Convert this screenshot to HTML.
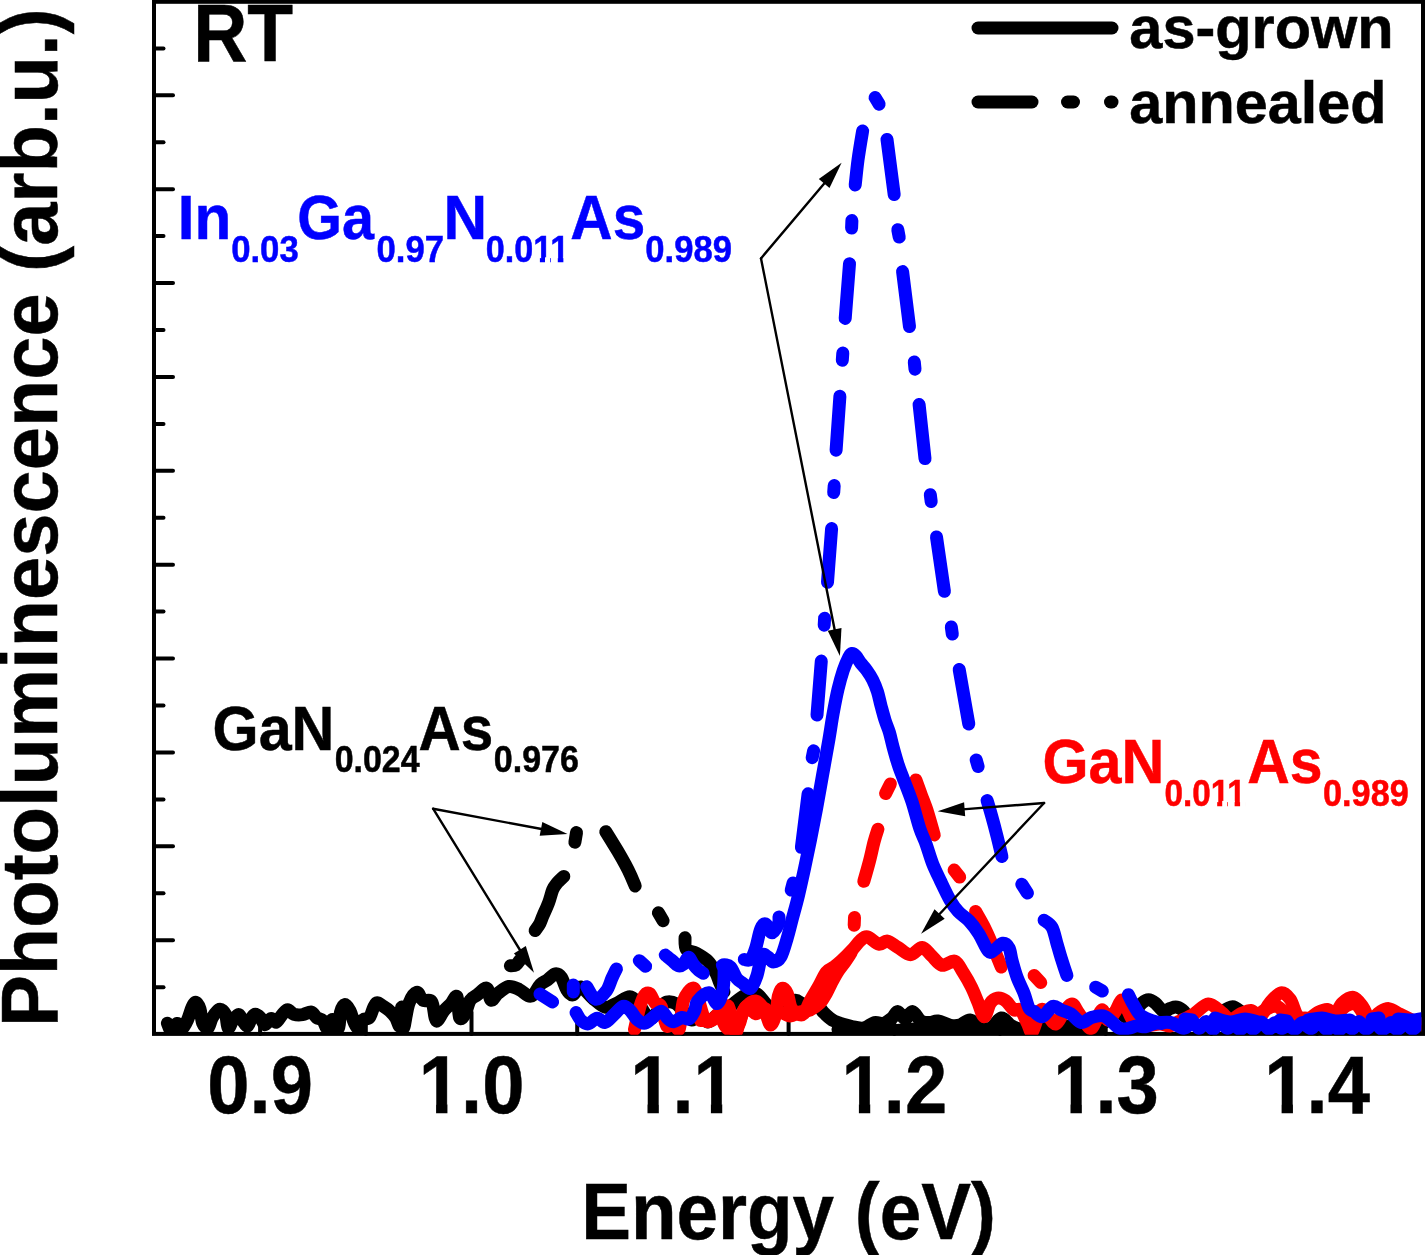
<!DOCTYPE html>
<html><head><meta charset="utf-8"><title>Photoluminescence</title>
<style>
html,body{margin:0;padding:0;background:#fff;}
body{width:1425px;height:1255px;overflow:hidden;}
svg{display:block;}
text{font-family:"Liberation Sans",Arial,Helvetica,sans-serif;font-weight:bold;}
</style></head><body>
<svg width="1425" height="1255" viewBox="0 0 1425 1255">
<rect width="1425" height="1255" fill="#fff"/>
<!-- axis ticks -->
<g stroke="#000" stroke-width="4" stroke-linecap="round" fill="none">
<line x1="154" y1="987.2" x2="163.5" y2="987.2"/>
<line x1="154" y1="940.2" x2="173.0" y2="940.2"/>
<line x1="154" y1="893.3" x2="163.5" y2="893.3"/>
<line x1="154" y1="846.3" x2="173.0" y2="846.3"/>
<line x1="154" y1="799.4" x2="163.5" y2="799.4"/>
<line x1="154" y1="752.5" x2="173.0" y2="752.5"/>
<line x1="154" y1="705.5" x2="163.5" y2="705.5"/>
<line x1="154" y1="658.6" x2="173.0" y2="658.6"/>
<line x1="154" y1="611.6" x2="163.5" y2="611.6"/>
<line x1="154" y1="564.7" x2="173.0" y2="564.7"/>
<line x1="154" y1="517.8" x2="163.5" y2="517.8"/>
<line x1="154" y1="470.8" x2="173.0" y2="470.8"/>
<line x1="154" y1="423.9" x2="163.5" y2="423.9"/>
<line x1="154" y1="376.9" x2="173.0" y2="376.9"/>
<line x1="154" y1="330.0" x2="163.5" y2="330.0"/>
<line x1="154" y1="283.1" x2="173.0" y2="283.1"/>
<line x1="154" y1="236.1" x2="163.5" y2="236.1"/>
<line x1="154" y1="189.2" x2="173.0" y2="189.2"/>
<line x1="154" y1="142.2" x2="163.5" y2="142.2"/>
<line x1="154" y1="95.3" x2="173.0" y2="95.3"/>
<line x1="154" y1="48.4" x2="163.5" y2="48.4"/>
<line x1="260.1" y1="1033.9" x2="260.1" y2="1011.9"/>
<line x1="365.8" y1="1033.9" x2="365.8" y2="1021.9"/>
<line x1="471.5" y1="1033.9" x2="471.5" y2="1011.9"/>
<line x1="577.2" y1="1033.9" x2="577.2" y2="1021.9"/>
<line x1="682.9" y1="1033.9" x2="682.9" y2="1011.9"/>
<line x1="788.6" y1="1033.9" x2="788.6" y2="1021.9"/>
<line x1="894.3" y1="1033.9" x2="894.3" y2="1011.9"/>
<line x1="1000.0" y1="1033.9" x2="1000.0" y2="1021.9"/>
<line x1="1105.7" y1="1033.9" x2="1105.7" y2="1011.9"/>
<line x1="1211.4" y1="1033.9" x2="1211.4" y2="1021.9"/>
<line x1="1317.1" y1="1033.9" x2="1317.1" y2="1011.9"/>
</g>
<!-- frame -->
<rect x="154" y="1.8" width="1269" height="1032.1" fill="none" stroke="#000" stroke-width="4"/>
<!-- curves -->
<defs><clipPath id="plotclip"><rect x="152" y="0" width="1269.3" height="1034.8"/></clipPath></defs>
<g clip-path="url(#plotclip)" fill="none" stroke-linecap="round" stroke-linejoin="round">
<path d="M167.4 1023.3C168.0 1024.4 169.4 1030.0 171.0 1030.0C172.6 1030.0 175.3 1023.8 177.2 1023.5C179.1 1023.2 180.8 1028.9 182.5 1028.2C184.2 1027.5 186.1 1023.0 187.7 1019.5C189.3 1016.0 190.7 1010.1 192.1 1007.2C193.5 1004.3 194.7 1002.0 196.0 1002.3C197.3 1002.6 198.9 1005.5 200.0 1009.0C201.1 1012.5 201.3 1019.8 202.6 1023.0C203.9 1026.2 206.3 1029.1 207.9 1028.2C209.5 1027.3 210.4 1020.9 212.3 1017.7C214.2 1014.6 217.1 1009.9 219.3 1009.3C221.5 1008.7 223.9 1011.1 225.4 1014.2C226.9 1017.4 226.9 1027.0 228.1 1028.2C229.3 1029.4 230.8 1023.5 232.5 1021.2C234.2 1018.9 236.8 1014.6 238.6 1014.6C240.3 1014.6 241.5 1019.3 243.0 1021.2C244.5 1023.1 245.9 1026.7 247.4 1026.1C248.9 1025.5 250.5 1019.7 251.8 1017.7C253.1 1015.7 253.9 1014.2 255.3 1014.2C256.8 1014.2 258.9 1016.0 260.5 1017.7C262.1 1019.5 263.1 1024.5 264.9 1024.7C266.6 1024.9 269.1 1019.0 271.0 1018.6C272.9 1018.2 274.4 1022.8 276.3 1022.1C278.2 1021.4 280.6 1016.2 282.5 1014.2C284.4 1012.2 285.8 1009.8 287.7 1009.8C289.6 1009.8 291.4 1013.4 293.9 1014.2C296.4 1015.0 299.7 1015.0 302.6 1014.6C305.5 1014.2 309.0 1011.6 311.4 1012.1C313.8 1012.6 314.8 1016.3 316.7 1017.7C318.6 1019.1 321.1 1018.6 322.8 1020.4C324.6 1022.1 325.6 1028.4 327.2 1028.2C328.8 1028.0 330.6 1019.5 332.5 1019.5C334.4 1019.5 337.3 1029.4 338.6 1028.2C339.9 1027.0 339.4 1016.4 340.4 1012.5C341.4 1008.6 343.1 1004.9 344.7 1004.6C346.3 1004.3 348.4 1007.6 350.0 1010.7C351.6 1013.8 352.9 1020.1 354.4 1023.0C355.9 1025.9 357.3 1028.8 358.8 1028.2C360.3 1027.6 361.4 1021.2 363.2 1019.5C364.9 1017.8 367.6 1019.8 369.3 1017.7C371.1 1015.7 372.4 1009.7 373.7 1007.2C375.0 1004.7 375.6 1002.9 377.2 1002.8C378.8 1002.6 381.2 1005.0 383.3 1006.3C385.4 1007.6 387.4 1008.8 389.5 1010.7C391.6 1012.6 393.9 1015.2 395.6 1017.7C397.4 1020.2 399.0 1027.8 400.0 1026.0C401.0 1024.2 401.2 1006.8 401.8 1007.2C402.4 1007.6 402.3 1028.8 403.5 1028.2C404.7 1027.6 406.6 1009.7 408.8 1003.7C411.0 997.7 414.4 992.9 416.7 992.3C419.0 991.7 420.3 998.7 422.8 1000.2C425.3 1001.8 429.6 998.7 431.6 1001.6C433.7 1004.5 434.1 1014.6 435.1 1017.7C436.1 1020.8 436.2 1021.6 437.7 1020.4C439.2 1019.2 441.7 1013.5 443.9 1010.7C446.1 1007.9 448.7 1006.0 450.9 1003.7C453.1 1001.4 455.6 994.4 457.0 996.7C458.4 999.0 458.3 1014.8 459.6 1017.7C460.9 1020.6 463.1 1017.1 464.9 1014.2C466.7 1011.3 468.1 1003.4 470.2 1000.2C472.2 997.0 474.4 996.9 477.2 994.9C480.0 992.9 484.5 987.3 486.8 988.2C489.1 989.1 489.3 999.4 491.2 1000.2C493.1 1001.0 495.3 995.5 498.2 993.2C501.1 990.9 505.3 987.1 508.8 986.5C512.3 985.9 516.1 988.1 519.3 989.6C522.5 991.1 525.8 994.9 528.1 995.8C530.4 996.7 531.2 996.8 533.3 994.9C535.3 993.0 538.0 986.9 540.4 984.4C542.8 981.9 544.9 981.8 547.4 980.0C549.9 978.2 553.0 974.3 555.3 973.9C557.6 973.5 559.5 974.8 561.4 977.4C563.3 980.0 564.8 986.7 566.7 989.6C568.6 992.5 570.5 995.3 572.8 994.9C575.1 994.5 577.3 986.4 580.7 987.0C584.1 987.6 588.9 995.0 593.0 998.4C597.1 1001.8 601.5 1006.3 605.3 1007.2C609.1 1008.1 611.7 1005.5 615.8 1003.7C619.9 1002.0 626.0 996.7 629.8 996.7C633.6 996.7 636.0 1000.8 638.6 1003.7C641.2 1006.6 643.4 1011.8 645.6 1014.2C647.8 1016.6 649.6 1019.0 652.0 1018.0C654.4 1017.0 657.5 1010.7 660.0 1008.0C662.5 1005.3 664.0 1002.7 666.7 1002.0C669.4 1001.3 673.1 1002.0 676.0 1003.7C678.9 1005.4 681.3 1009.3 684.0 1012.0C686.7 1014.7 689.3 1019.7 692.0 1020.0C694.7 1020.3 697.3 1013.7 700.0 1014.0C702.7 1014.3 705.3 1021.7 708.0 1022.0C710.7 1022.3 713.0 1018.0 716.0 1016.0C719.0 1014.0 722.3 1012.7 726.0 1010.0C729.7 1007.3 734.3 1002.7 738.0 1000.0C741.7 997.3 744.8 995.0 748.0 994.0C751.2 993.0 754.0 992.3 757.0 994.0C760.0 995.7 763.2 1001.0 766.0 1004.0C768.8 1007.0 771.0 1012.0 774.0 1012.0C777.0 1012.0 780.4 1006.0 784.0 1004.0C787.6 1002.0 792.5 1000.2 795.6 1000.2C798.7 1000.2 798.8 1002.5 802.6 1003.7C806.4 1004.9 814.9 1005.7 818.4 1007.2C821.9 1008.7 821.1 1010.4 823.7 1012.7C826.3 1015.0 829.5 1018.7 834.2 1021.0C838.9 1023.3 846.8 1025.3 851.8 1026.5C856.8 1027.7 860.2 1028.7 864.0 1028.0C867.8 1027.3 871.4 1023.3 874.6 1022.5C877.8 1021.7 880.4 1024.2 883.3 1023.4C886.2 1022.6 889.7 1020.0 892.1 1018.0C894.5 1016.0 895.7 1011.5 897.9 1011.6C900.1 1011.8 902.8 1018.9 905.3 1018.9C907.8 1018.9 910.0 1011.2 912.6 1011.6C915.2 1012.0 918.1 1019.2 921.0 1021.0C923.9 1022.8 927.2 1022.5 930.0 1022.5C932.8 1022.5 934.5 1020.5 937.9 1021.0C941.3 1021.5 946.8 1024.6 950.5 1025.3C954.2 1026.0 956.7 1025.9 960.0 1025.0C963.3 1024.1 966.7 1019.7 970.1 1020.0C973.5 1020.3 976.8 1025.3 980.2 1026.7C983.6 1028.1 986.8 1029.9 990.3 1028.4C993.8 1027.0 997.9 1018.6 1001.3 1018.0C1004.7 1017.4 1007.4 1023.2 1010.5 1025.0C1013.6 1026.8 1015.9 1028.7 1020.0 1029.0C1024.1 1029.3 1030.0 1027.0 1035.0 1027.0C1040.0 1027.0 1045.0 1029.2 1050.0 1029.0C1055.0 1028.8 1060.0 1026.0 1065.0 1026.0C1070.0 1026.0 1075.0 1028.8 1080.0 1029.0C1085.0 1029.2 1090.8 1028.2 1095.0 1027.0C1099.2 1025.8 1101.4 1024.6 1105.0 1022.0C1108.6 1019.4 1112.7 1012.2 1116.6 1011.6C1120.5 1011.0 1125.3 1018.2 1128.4 1018.3C1131.5 1018.4 1132.8 1014.5 1135.0 1012.0C1137.2 1009.5 1139.6 1005.2 1141.9 1003.2C1144.2 1001.2 1146.3 999.8 1148.6 999.8C1150.8 999.8 1152.9 1001.2 1155.4 1003.2C1157.9 1005.2 1161.4 1010.7 1163.8 1011.6C1166.2 1012.5 1167.8 1009.2 1170.0 1008.5C1172.2 1007.8 1174.4 1006.7 1176.7 1007.2C1179.0 1007.7 1182.0 1009.5 1184.0 1011.6C1186.0 1013.7 1186.3 1017.6 1189.0 1020.0C1191.7 1022.4 1196.2 1025.7 1200.0 1026.0C1203.8 1026.3 1208.3 1024.3 1212.0 1022.0C1215.7 1019.7 1218.6 1014.5 1222.0 1012.0C1225.4 1009.5 1229.3 1006.7 1232.5 1006.7C1235.7 1006.7 1238.1 1009.5 1241.0 1012.0C1243.9 1014.5 1246.0 1019.7 1250.0 1022.0C1254.0 1024.3 1260.0 1025.7 1265.0 1026.0C1270.0 1026.3 1275.0 1023.8 1280.0 1024.0C1285.0 1024.2 1290.0 1027.0 1295.0 1027.0C1300.0 1027.0 1304.2 1024.0 1310.0 1024.0C1315.8 1024.0 1323.3 1027.0 1330.0 1027.0C1336.7 1027.0 1343.3 1024.0 1350.0 1024.0C1356.7 1024.0 1363.3 1027.0 1370.0 1027.0C1376.7 1027.0 1383.3 1024.0 1390.0 1024.0C1396.7 1024.0 1404.2 1026.8 1410.0 1027.0C1415.8 1027.2 1422.5 1025.3 1425.0 1025.0" stroke="#000" stroke-width="13"/>
<path d="M510.4 965.7C511.3 965.6 514.4 965.9 516.0 964.9C517.6 963.9 519.3 960.8 520.0 960.0" stroke="#000" stroke-width="13"/>
<path d="M535.1 930.6C535.9 929.4 538.6 925.9 539.9 923.4C541.2 920.9 541.6 919.0 543.1 915.5C544.6 912.0 547.0 907.0 548.6 902.7C550.2 898.5 551.3 893.2 552.6 890.0C553.9 886.8 554.7 885.9 556.6 883.6C558.5 881.3 562.6 877.6 563.8 876.4" stroke="#000" stroke-width="13"/>
<polyline points="574.9,842.2 576.5,832.6" stroke="#000" stroke-width="13"/>
<path d="M605.8 831.7C607.8 834.9 614.3 845.4 617.6 850.9C620.9 856.4 623.3 860.8 625.4 864.7C627.5 868.6 628.7 871.0 630.3 874.5C631.9 878.0 634.4 884.0 635.2 885.9" stroke="#000" stroke-width="13"/>
<polyline points="658.4,912.8 663.1,920.7" stroke="#000" stroke-width="13"/>
<path d="M685.0 937.8C685.2 939.7 684.4 946.7 686.3 949.2C688.2 951.8 692.6 951.1 696.2 953.1C699.8 955.1 704.6 957.7 707.9 961.0C711.2 964.3 713.8 969.2 715.8 972.8C717.8 976.4 718.3 979.4 719.7 982.6C721.1 985.8 723.3 990.4 724.0 992.0" stroke="#000" stroke-width="13"/>
<path d="M838.0 1029.5C840.8 1029.7 848.8 1030.6 855.0 1030.5C861.2 1030.4 868.3 1029.0 875.0 1029.0C881.7 1029.0 888.3 1030.5 895.0 1030.5C901.7 1030.5 908.3 1029.1 915.0 1029.0C921.7 1028.9 928.8 1030.0 935.0 1030.0C941.2 1030.0 947.0 1029.3 952.0 1029.0C957.0 1028.7 960.3 1027.8 965.0 1028.0C969.7 1028.2 975.0 1030.0 980.0 1030.0C985.0 1030.0 990.0 1028.0 995.0 1028.0C1000.0 1028.0 1005.0 1029.8 1010.0 1030.0C1015.0 1030.2 1020.0 1029.0 1025.0 1029.0C1030.0 1029.0 1034.2 1030.0 1040.0 1030.0C1045.8 1030.0 1053.3 1029.0 1060.0 1029.0C1066.7 1029.0 1073.3 1030.0 1080.0 1030.0C1086.7 1030.0 1096.7 1029.2 1100.0 1029.0" stroke="#000" stroke-width="13"/>
<path d="M634.5 1029.5C635.4 1025.6 638.3 1012.0 640.0 1006.3C641.7 1000.6 643.0 997.2 644.6 995.1C646.2 993.0 648.0 992.3 649.8 993.7C651.6 995.1 653.5 1001.4 655.4 1003.5C657.3 1005.6 659.2 1002.5 661.1 1006.3C663.0 1010.0 664.7 1023.4 666.7 1026.0C668.7 1028.6 670.9 1021.5 673.0 1022.0C675.1 1022.5 677.5 1032.3 679.3 1028.8C681.0 1025.2 681.2 1007.5 683.5 1000.7C685.8 993.9 690.8 988.1 693.3 988.1C695.8 988.1 697.2 996.7 698.8 1001.0C700.3 1005.3 701.3 1010.3 702.6 1013.7C703.9 1017.1 704.7 1020.2 706.4 1021.3C708.1 1022.3 710.6 1021.3 712.7 1020.0C714.8 1018.7 717.0 1012.7 719.1 1013.7C721.2 1014.8 723.1 1023.3 725.4 1026.3C727.7 1029.2 730.6 1031.8 732.9 1031.4C735.2 1031.0 737.6 1027.2 739.3 1023.8C741.0 1020.4 741.4 1014.6 743.1 1011.2C744.8 1007.8 747.3 1005.3 749.4 1003.6C751.5 1001.9 753.8 1000.8 755.7 1001.0C757.6 1001.2 759.0 1002.7 760.7 1004.8C762.4 1006.9 764.1 1010.3 765.8 1013.7C767.5 1017.1 769.1 1025.0 770.8 1025.0C772.5 1025.0 774.6 1018.5 775.9 1013.7C777.2 1008.9 777.3 1000.2 778.4 996.0C779.5 991.8 780.7 988.8 782.2 988.4C783.7 988.0 785.8 990.3 787.3 993.5C788.8 996.7 789.3 1004.0 791.0 1007.4C792.7 1010.8 795.3 1012.7 797.4 1013.7C799.5 1014.8 801.6 1015.8 803.7 1013.7C805.8 1011.6 807.5 1005.6 810.0 1001.0C812.5 996.4 816.1 990.7 818.8 985.9C821.5 981.1 823.9 975.1 826.4 972.0C828.9 968.9 831.5 968.9 834.0 967.0C836.5 965.1 838.6 963.4 841.6 960.6C844.6 957.9 848.6 953.9 851.7 950.5C854.9 947.1 857.9 942.7 860.5 940.4C863.1 938.1 864.3 936.2 867.4 936.8C870.5 937.4 875.6 943.5 878.9 944.2C882.2 944.9 884.2 940.6 887.4 941.1C890.6 941.6 894.0 945.1 897.9 947.4C901.8 949.7 906.5 954.7 910.5 954.7C914.5 954.7 918.6 947.2 922.1 947.4C925.6 947.6 928.3 952.8 931.6 955.8C934.9 958.8 938.2 964.4 942.1 965.3C946.0 966.2 951.2 959.9 954.7 961.1C958.2 962.3 960.4 968.2 963.2 972.6C966.0 977.0 969.2 982.5 971.6 987.4C974.0 992.3 975.8 997.2 977.9 1002.1C980.0 1007.0 982.1 1016.6 984.2 1016.8C986.3 1017.0 988.1 1006.3 990.3 1003.2C992.4 1000.1 994.6 998.5 997.1 998.1C999.6 997.7 1002.7 998.6 1005.5 1000.6C1008.3 1002.6 1011.4 1008.4 1013.9 1009.9C1016.4 1011.4 1018.4 1007.6 1020.6 1009.9C1022.9 1012.1 1025.4 1019.8 1027.4 1023.4C1029.4 1027.0 1030.2 1034.0 1032.4 1031.8C1034.6 1029.5 1038.2 1012.5 1040.8 1009.9C1043.4 1007.3 1045.5 1013.6 1048.0 1016.0C1050.5 1018.4 1053.3 1024.7 1056.0 1024.0C1058.7 1023.3 1061.3 1015.3 1064.0 1012.0C1066.7 1008.7 1069.7 1004.0 1072.0 1004.0C1074.3 1004.0 1075.9 1009.0 1078.0 1012.0C1080.1 1015.0 1082.3 1019.0 1084.6 1021.7C1086.9 1024.4 1089.2 1030.0 1092.0 1028.0C1094.8 1026.0 1098.8 1011.3 1101.5 1010.0C1104.2 1008.7 1105.8 1019.7 1108.0 1020.0C1110.2 1020.3 1112.7 1015.3 1115.0 1012.0C1117.3 1008.7 1119.8 1000.6 1121.7 1000.0C1123.7 999.4 1124.7 1004.5 1126.7 1008.2C1128.8 1011.9 1131.0 1019.0 1134.0 1022.0C1137.0 1025.0 1140.7 1025.7 1145.0 1026.0C1149.3 1026.3 1155.8 1024.0 1160.0 1024.0C1164.2 1024.0 1166.9 1026.4 1170.0 1026.0C1173.1 1025.6 1174.7 1023.6 1178.6 1021.6C1182.5 1019.6 1188.5 1017.2 1193.5 1014.2C1198.5 1011.2 1203.8 1004.2 1208.4 1003.9C1213.1 1003.6 1217.7 1009.7 1221.4 1012.3C1225.1 1014.9 1227.6 1019.4 1230.7 1019.7C1233.8 1020.0 1236.6 1015.8 1240.0 1014.2C1243.4 1012.7 1247.7 1010.1 1251.1 1010.4C1254.5 1010.7 1257.3 1017.2 1260.4 1016.0C1263.5 1014.8 1266.3 1006.9 1269.7 1003.0C1273.1 999.1 1277.5 993.4 1280.9 992.8C1284.3 992.2 1287.4 995.4 1290.2 999.3C1293.0 1003.2 1294.8 1012.6 1297.6 1016.0C1300.4 1019.4 1303.5 1020.3 1306.9 1019.7C1310.3 1019.1 1314.7 1014.0 1318.1 1012.3C1321.5 1010.6 1324.6 1009.2 1327.4 1009.5C1330.2 1009.8 1332.3 1015.3 1334.8 1014.2C1337.3 1013.1 1339.2 1005.8 1342.3 1003.0C1345.4 1000.2 1350.0 996.8 1353.4 997.4C1356.8 998.0 1359.9 1003.0 1362.7 1006.7C1365.5 1010.4 1367.4 1018.8 1370.2 1019.7C1373.0 1020.6 1376.4 1014.1 1379.5 1012.3C1382.6 1010.4 1385.4 1008.3 1388.8 1008.6C1392.2 1008.9 1396.2 1012.4 1399.9 1014.2C1403.6 1016.1 1406.9 1017.7 1411.1 1019.7C1415.3 1021.7 1422.7 1025.0 1425.0 1026.0" stroke="#f00" stroke-width="13"/>
<path d="M700.4 1020.4C701.8 1020.4 706.3 1020.9 708.8 1020.4C711.3 1019.9 713.0 1018.2 715.3 1017.5C717.6 1016.8 720.6 1018.1 722.8 1016.2C725.0 1014.3 726.3 1003.7 728.4 1006.3C730.5 1008.9 733.4 1029.5 735.4 1031.6C737.4 1033.7 738.6 1022.9 740.5 1018.7C742.4 1014.5 744.2 1007.1 746.7 1006.3C749.2 1005.5 752.7 1013.3 755.7 1013.7C758.7 1014.1 761.8 1008.4 764.5 1008.6C767.2 1008.8 769.4 1014.4 772.0 1015.0C774.6 1015.6 777.0 1011.8 780.0 1012.0C783.0 1012.2 786.7 1016.0 790.0 1016.0C793.3 1016.0 796.7 1013.0 800.0 1012.0C803.3 1011.0 806.7 1011.5 810.0 1010.0C813.3 1008.5 817.3 1005.7 820.0 1003.0C822.7 1000.3 824.2 997.2 826.0 994.0C827.8 990.8 829.2 987.5 831.0 984.0C832.8 980.5 834.7 976.7 837.0 973.0C839.3 969.3 842.7 965.3 845.0 962.0C847.3 958.7 850.0 954.5 851.0 953.0" stroke="#f00" stroke-width="13"/>
<path d="M1255.0 1018.0C1256.7 1016.7 1261.5 1012.0 1265.0 1010.0C1268.5 1008.0 1272.8 1005.7 1276.0 1006.0C1279.2 1006.3 1281.3 1009.7 1284.0 1012.0C1286.7 1014.3 1288.5 1019.0 1292.0 1020.0C1295.5 1021.0 1300.7 1018.0 1305.0 1018.0C1309.3 1018.0 1315.8 1019.7 1318.0 1020.0" stroke="#f00" stroke-width="13"/>
<path d="M1336.0 1016.0C1337.7 1014.3 1342.7 1008.0 1346.0 1006.0C1349.3 1004.0 1353.0 1002.7 1356.0 1004.0C1359.0 1005.3 1360.7 1011.3 1364.0 1014.0C1367.3 1016.7 1371.7 1019.7 1376.0 1020.0C1380.3 1020.3 1385.7 1016.0 1390.0 1016.0C1394.3 1016.0 1400.0 1019.3 1402.0 1020.0" stroke="#f00" stroke-width="13"/>
<polyline points="854.2,925.3 854.5,917.4" stroke="#f00" stroke-width="13"/>
<path d="M863.8 881.3C864.8 877.9 867.8 867.5 869.5 861.0C871.2 854.5 872.6 847.3 874.0 842.0C875.4 836.7 877.2 831.3 877.9 829.2" stroke="#f00" stroke-width="13"/>
<polyline points="885.6,793.5 890.4,783.9" stroke="#f00" stroke-width="13"/>
<path d="M915.9 779.9C916.8 782.4 919.4 789.6 921.4 795.1C923.4 800.6 925.7 806.0 927.8 812.6C929.9 819.2 933.1 831.2 934.2 834.9" stroke="#f00" stroke-width="13"/>
<polyline points="954.1,870.0 959.7,877.1" stroke="#f00" stroke-width="13"/>
<path d="M975.6 911.4C976.9 913.8 980.9 920.4 983.6 925.7C986.3 931.0 988.7 936.4 991.6 943.3C994.5 950.2 999.7 963.0 1001.3 967.0" stroke="#f00" stroke-width="13"/>
<polyline points="1034.1,975.4 1040.8,982.6" stroke="#f00" stroke-width="13"/>
<path d="M576.1 1012.6C576.9 1013.9 579.1 1018.5 581.1 1020.4C583.1 1022.3 585.4 1024.3 588.1 1023.9C590.8 1023.5 594.4 1018.4 597.2 1018.2C600.0 1018.0 602.1 1023.1 604.9 1022.5C607.7 1021.9 611.0 1017.4 614.0 1014.7C617.0 1012.0 620.5 1007.0 623.2 1006.3C625.9 1005.6 628.0 1008.4 630.2 1010.5C632.4 1012.6 634.2 1016.8 636.5 1018.9C638.8 1021.0 641.8 1023.2 644.2 1023.2C646.7 1023.2 648.4 1020.9 651.2 1018.9C654.0 1016.9 658.3 1011.2 661.1 1011.2C663.9 1011.2 666.0 1017.1 668.1 1018.9C670.2 1020.7 671.4 1022.0 673.7 1021.8C676.0 1021.6 679.5 1018.0 682.1 1017.5C684.7 1017.0 687.0 1020.1 689.1 1018.9C691.2 1017.7 693.3 1013.5 694.7 1010.5C696.1 1007.5 695.2 1004.0 697.6 1001.0C700.0 998.0 705.6 992.4 708.9 992.8C712.2 993.2 714.9 1003.9 717.2 1003.6C719.5 1003.3 721.6 996.4 722.8 990.9C723.9 985.4 724.1 975.0 724.1 970.7C724.1 966.4 721.8 965.6 722.8 965.0C723.8 964.4 728.1 964.7 730.4 966.9C732.7 969.1 734.6 975.5 736.7 978.3C738.8 981.0 740.7 981.7 743.0 983.4C745.3 985.1 748.3 989.7 750.6 988.4C752.9 987.1 755.0 981.3 756.9 975.8C758.8 970.3 760.1 958.7 762.0 955.6C763.9 952.5 766.1 956.0 768.0 957.0C769.9 958.0 771.2 961.9 773.4 961.9C775.5 961.9 778.6 960.8 780.9 956.8C783.2 952.8 785.4 944.2 787.3 937.9C789.2 931.6 790.4 926.1 792.3 918.9C794.2 911.7 796.6 903.3 798.6 894.9C800.6 886.5 802.5 877.8 804.5 868.6C806.5 859.4 808.5 849.9 810.5 839.9C812.5 829.9 814.5 819.6 816.5 808.9C818.5 798.1 820.5 786.6 822.5 775.4C824.5 764.2 826.7 752.3 828.5 741.9C830.3 731.5 831.6 722.0 833.2 713.2C834.8 704.4 836.3 696.5 838.0 689.3C839.7 682.1 841.5 675.6 843.3 670.2C845.1 664.8 847.4 659.9 848.8 657.1C850.2 654.3 850.7 653.7 851.9 653.5C853.1 653.3 854.4 654.3 855.9 655.9C857.4 657.5 858.9 660.6 860.7 663.0C862.5 665.4 864.7 667.4 866.7 670.2C868.7 673.0 870.9 676.2 872.7 679.8C874.5 683.4 876.1 687.3 877.5 691.7C878.9 696.1 879.8 701.3 881.1 706.1C882.4 710.9 883.7 716.0 885.1 720.4C886.5 724.8 888.1 728.0 889.4 732.4C890.7 736.8 891.6 741.5 893.0 746.7C894.4 751.9 896.2 758.5 897.8 763.4C899.3 768.3 899.9 769.6 902.3 775.9C904.6 782.2 909.0 792.6 911.9 801.4C914.8 810.2 917.4 821.3 919.8 828.5C922.2 835.7 924.1 838.6 926.2 844.5C928.3 850.4 930.2 857.5 932.6 863.6C935.0 869.7 937.7 875.0 940.6 881.1C943.5 887.2 947.2 895.2 950.1 900.2C953.0 905.2 954.9 907.9 958.1 911.4C961.3 914.9 965.8 917.3 969.2 921.0C972.7 924.7 975.6 928.7 978.8 933.7C982.0 938.7 985.8 948.6 988.4 951.2C991.0 953.9 992.3 950.9 994.7 949.6C997.1 948.3 1000.3 943.6 1002.7 943.3C1005.1 943.0 1007.5 945.0 1009.1 948.0C1010.7 951.0 1010.8 956.1 1012.2 961.1C1013.6 966.1 1015.3 972.6 1017.3 977.9C1019.3 983.2 1022.0 988.0 1024.0 993.1C1026.0 998.2 1027.4 1005.1 1029.1 1008.2C1030.8 1011.3 1031.9 1010.2 1034.1 1011.6C1036.3 1013.0 1039.4 1017.5 1042.5 1016.6C1045.6 1015.8 1049.5 1007.6 1052.6 1006.5C1055.7 1005.4 1058.0 1008.6 1061.1 1009.9C1064.2 1011.2 1067.8 1012.0 1071.2 1014.1C1074.6 1016.2 1077.9 1021.9 1081.3 1022.5C1084.7 1023.1 1087.8 1018.6 1091.4 1017.5C1095.1 1016.4 1099.8 1015.1 1103.2 1015.8C1106.6 1016.5 1108.8 1019.6 1111.6 1021.7C1114.4 1023.8 1117.2 1027.3 1120.0 1028.4C1122.8 1029.5 1125.6 1028.8 1128.4 1028.4C1131.2 1028.0 1134.0 1026.2 1136.8 1025.9C1139.6 1025.6 1142.2 1027.1 1145.3 1026.7C1148.4 1026.3 1151.2 1024.1 1155.4 1023.4C1159.6 1022.7 1165.7 1021.7 1170.5 1022.5C1175.3 1023.3 1180.3 1028.5 1184.0 1028.4C1187.7 1028.3 1189.9 1021.7 1192.4 1021.7C1194.9 1021.7 1196.7 1028.5 1199.0 1028.5C1201.3 1028.5 1203.7 1021.5 1206.1 1021.6C1208.5 1021.7 1211.2 1029.5 1213.4 1029.3C1215.6 1029.1 1216.8 1020.6 1219.1 1020.5C1221.4 1020.4 1224.8 1028.0 1227.2 1028.5C1229.6 1029.0 1231.2 1023.3 1233.4 1023.5C1235.6 1023.7 1238.0 1029.9 1240.3 1029.7C1242.6 1029.5 1245.1 1022.5 1247.2 1022.4C1249.3 1022.3 1250.8 1029.3 1253.1 1029.3C1255.4 1029.2 1258.6 1022.1 1261.3 1022.1C1264.0 1022.1 1266.8 1029.2 1269.0 1029.3C1271.2 1029.4 1272.5 1022.9 1274.7 1022.8C1276.9 1022.7 1279.8 1028.5 1281.9 1028.6C1284.0 1028.6 1285.4 1023.0 1287.5 1023.1C1289.6 1023.2 1292.0 1029.5 1294.5 1029.4C1297.0 1029.3 1299.9 1022.7 1302.6 1022.6C1305.3 1022.5 1308.2 1028.9 1310.9 1028.8C1313.6 1028.7 1316.1 1021.6 1318.8 1021.8C1321.5 1022.0 1324.8 1030.0 1327.1 1029.8C1329.4 1029.6 1330.9 1020.9 1332.9 1020.9C1334.9 1020.9 1336.8 1029.7 1339.0 1029.9C1341.2 1030.2 1343.6 1022.5 1345.8 1022.4C1348.0 1022.2 1350.0 1029.1 1352.2 1029.0C1354.4 1028.9 1356.6 1021.6 1358.9 1021.6C1361.2 1021.6 1363.5 1029.0 1366.1 1029.2C1368.7 1029.4 1371.5 1022.4 1374.3 1022.5C1377.0 1022.6 1379.8 1029.7 1382.6 1029.7C1385.4 1029.7 1388.7 1022.5 1391.1 1022.5C1393.5 1022.5 1394.7 1029.6 1397.1 1029.7C1399.5 1029.8 1402.9 1023.2 1405.5 1023.2C1408.1 1023.2 1410.5 1029.4 1412.7 1029.4C1414.9 1029.4 1417.8 1024.1 1418.8 1023.0" stroke="#00f" stroke-width="13"/>
<polyline points="540.0,994.0 552.6,1001.9" stroke="#00f" stroke-width="13"/>
<polyline points="573.3,985.0 573.3,992.0" stroke="#00f" stroke-width="13"/>
<path d="M586.7 986.7C588.2 988.8 592.5 998.6 595.8 999.3C599.1 1000.0 603.6 994.5 606.3 991.0C609.0 987.5 610.2 982.0 611.9 978.3C613.6 974.6 615.6 970.5 616.4 969.0" stroke="#00f" stroke-width="13"/>
<polyline points="639.3,960.7 645.6,966.3" stroke="#00f" stroke-width="13"/>
<path d="M665.3 955.1C666.5 956.0 670.2 959.0 672.3 960.7C674.4 962.5 676.0 965.0 677.9 965.6C679.8 966.2 681.8 965.6 683.5 964.2C685.2 962.8 686.8 957.2 688.4 957.2C690.0 957.2 691.7 962.1 693.3 964.2C694.9 966.3 696.6 968.3 698.2 969.8C699.9 971.3 702.4 972.7 703.2 973.3" stroke="#00f" stroke-width="13"/>
<path d="M744.3 959.4C745.3 959.4 748.7 961.3 750.6 959.4C752.5 957.5 754.0 953.1 755.7 948.0C757.4 942.9 759.0 933.0 760.7 929.0C762.4 925.0 763.9 923.4 765.8 924.0C767.7 924.6 770.0 932.8 772.1 932.8C774.2 932.8 777.2 926.6 778.4 924.0C779.5 921.4 778.9 918.2 779.0 917.0" stroke="#00f" stroke-width="13"/>
<polyline points="791.2,890.1 793.1,883.0" stroke="#00f" stroke-width="13"/>
<polyline points="801.4,847.4 808.1,793.8" stroke="#00f" stroke-width="13"/>
<polyline points="812.2,757.7 813.6,750.8" stroke="#00f" stroke-width="13"/>
<polyline points="817.0,715.1 821.3,661.1" stroke="#00f" stroke-width="13"/>
<polyline points="824.2,625.2 824.6,618.3" stroke="#00f" stroke-width="13"/>
<polyline points="827.5,582.2 831.6,528.6" stroke="#00f" stroke-width="13"/>
<polyline points="833.7,492.5 834.2,485.6" stroke="#00f" stroke-width="13"/>
<polyline points="836.1,450.2 839.9,396.2" stroke="#00f" stroke-width="13"/>
<polyline points="842.3,360.3 842.8,353.1" stroke="#00f" stroke-width="13"/>
<polyline points="845.2,318.4 849.5,263.7" stroke="#00f" stroke-width="13"/>
<polyline points="851.6,228.1 851.9,220.6" stroke="#00f" stroke-width="13"/>
<path d="M855.2 185.0C855.7 180.8 856.8 169.0 858.0 160.0C859.2 151.0 861.8 135.8 862.6 131.0" stroke="#00f" stroke-width="13"/>
<polyline points="875.1,97.5 879.1,104.2" stroke="#00f" stroke-width="13"/>
<polyline points="887.0,139.4 894.2,194.6" stroke="#00f" stroke-width="13"/>
<polyline points="897.8,229.7 899.2,237.1" stroke="#00f" stroke-width="13"/>
<polyline points="902.6,271.6 909.5,326.6" stroke="#00f" stroke-width="13"/>
<polyline points="914.3,362.0 915.0,369.2" stroke="#00f" stroke-width="13"/>
<polyline points="919.1,404.5 925.0,458.6" stroke="#00f" stroke-width="13"/>
<polyline points="930.3,494.7 931.2,501.6" stroke="#00f" stroke-width="13"/>
<polyline points="936.5,537.0 944.4,591.3" stroke="#00f" stroke-width="13"/>
<polyline points="951.3,626.9 952.3,634.1" stroke="#00f" stroke-width="13"/>
<polyline points="959.2,669.5 968.8,724.0" stroke="#00f" stroke-width="13"/>
<polyline points="976.2,759.9 978.1,766.5" stroke="#00f" stroke-width="13"/>
<path d="M987.1 800.6C987.9 803.1 989.9 809.8 991.6 815.8C993.3 821.8 995.4 829.7 997.1 836.5C998.8 843.3 1001.1 853.1 1001.9 856.4" stroke="#00f" stroke-width="13"/>
<polyline points="1021.8,884.3 1027.4,893.1" stroke="#00f" stroke-width="13"/>
<path d="M1044.1 920.2C1045.4 921.4 1050.0 923.4 1052.1 927.3C1054.2 931.1 1055.4 938.2 1056.9 943.3C1058.4 948.4 1059.4 952.4 1061.1 957.7C1062.8 963.1 1065.9 972.5 1066.9 975.4" stroke="#00f" stroke-width="13"/>
<polyline points="1095.6,987.2 1102.3,991.0" stroke="#00f" stroke-width="13"/>
<path d="M1128.4 994.7C1129.2 996.4 1131.5 1001.4 1133.5 1004.8C1135.5 1008.2 1137.4 1012.4 1140.2 1014.9C1143.0 1017.4 1146.7 1018.6 1150.3 1020.0C1153.9 1021.4 1160.1 1022.8 1162.1 1023.4" stroke="#00f" stroke-width="13"/>
<polyline points="1185.0,1019.0 1192.0,1020.0" stroke="#00f" stroke-width="13"/>
<path d="M1215.0 1018.0C1217.5 1018.7 1225.0 1021.8 1230.0 1022.0C1235.0 1022.2 1240.3 1019.0 1245.0 1019.0C1249.7 1019.0 1255.8 1021.5 1258.0 1022.0" stroke="#00f" stroke-width="13"/>
<polyline points="1280.0,1020.0 1287.0,1021.0" stroke="#00f" stroke-width="13"/>
<path d="M1308.0 1020.0C1310.3 1019.7 1317.5 1017.8 1322.0 1018.0C1326.5 1018.2 1330.3 1020.7 1335.0 1021.0C1339.7 1021.3 1347.5 1020.2 1350.0 1020.0" stroke="#00f" stroke-width="13"/>
<polyline points="1372.0,1019.0 1379.0,1018.0" stroke="#00f" stroke-width="13"/>
<path d="M1398.0 1019.0C1400.3 1019.2 1407.5 1020.2 1412.0 1020.0C1416.5 1019.8 1422.8 1018.3 1425.0 1018.0" stroke="#00f" stroke-width="13"/>
</g>
<g>
<line x1="761.0" y1="258.4" x2="825.5" y2="181.9" stroke="#000" stroke-width="2.4" stroke-linecap="round"/><polygon points="841.6,162.8 829.5,188.0 818.8,178.9" fill="#000"/>
<line x1="761.0" y1="258.4" x2="835.0" y2="631.4" stroke="#000" stroke-width="2.4" stroke-linecap="round"/><polygon points="839.9,655.9 827.8,630.8 841.5,628.1" fill="#000"/>
<line x1="1044.1" y1="803.0" x2="962.6" y2="809.4" stroke="#000" stroke-width="2.4" stroke-linecap="round"/><polygon points="937.7,811.3 964.1,802.2 965.2,816.2" fill="#000"/>
<line x1="1044.1" y1="803.0" x2="938.2" y2="915.5" stroke="#000" stroke-width="2.4" stroke-linecap="round"/><polygon points="921.1,933.7 934.5,909.2 944.7,918.8" fill="#000"/>
<line x1="433.1" y1="808.7" x2="542.9" y2="829.3" stroke="#000" stroke-width="2.4" stroke-linecap="round"/><polygon points="567.5,833.9 539.7,835.8 542.3,822.0" fill="#000"/>
<line x1="433.1" y1="808.7" x2="520.9" y2="951.5" stroke="#000" stroke-width="2.4" stroke-linecap="round"/><polygon points="534.0,972.8 513.9,953.5 525.8,946.1" fill="#000"/>
</g>
<!-- legend -->
<g stroke="#000" stroke-width="13" stroke-linecap="round" fill="none">
<line x1="978" y1="28" x2="1112" y2="28"/>
<line x1="978" y1="102" x2="1032" y2="102"/>
<line x1="1067.5" y1="102" x2="1073.5" y2="102"/>
<line x1="1110.5" y1="102" x2="1112" y2="102"/>
</g>
<text x="193.16" y="61" font-size="80.7" fill="#000" stroke="#000" stroke-width="0.5" textLength="99.86" lengthAdjust="spacingAndGlyphs">RT</text>
<text x="1129.32" y="47.6" font-size="60" fill="#000" stroke="#000" stroke-width="0.5" textLength="264.35" lengthAdjust="spacingAndGlyphs">as-grown</text>
<text x="1129.32" y="122.5" font-size="60" fill="#000" stroke="#000" stroke-width="0.5" textLength="257.24" lengthAdjust="spacingAndGlyphs">annealed</text>
<text x="581.14" y="1238.9" font-size="80" fill="#000" stroke="#000" stroke-width="0.5" textLength="414.7" lengthAdjust="spacingAndGlyphs">Energy (eV)</text>
<text x="207.27" y="1113.3" font-size="82" fill="#000" stroke="#000" stroke-width="0.5" textLength="105.69" lengthAdjust="spacingAndGlyphs">0.9</text>
<text x="418.8" y="1113.3" font-size="82" fill="#000" stroke="#000" stroke-width="0.5" textLength="105.69" lengthAdjust="spacingAndGlyphs">1.0</text>
<text x="630.2" y="1113.3" font-size="82" fill="#000" stroke="#000" stroke-width="0.5" textLength="105.69" lengthAdjust="spacingAndGlyphs">1.1</text>
<text x="841.6" y="1113.3" font-size="82" fill="#000" stroke="#000" stroke-width="0.5" textLength="105.69" lengthAdjust="spacingAndGlyphs">1.2</text>
<text x="1053.2" y="1113.3" font-size="82" fill="#000" stroke="#000" stroke-width="0.5" textLength="105.69" lengthAdjust="spacingAndGlyphs">1.3</text>
<text x="1264.3" y="1113.3" font-size="82" fill="#000" stroke="#000" stroke-width="0.5" textLength="105.69" lengthAdjust="spacingAndGlyphs">1.4</text>
<text x="177.79" y="239" font-size="63.3" fill="#00f" stroke="#00f" stroke-width="0.5" textLength="53.57" lengthAdjust="spacingAndGlyphs">In</text>
<text x="231.14" y="262" font-size="36.2" fill="#00f" stroke="#00f" stroke-width="0.5" textLength="67.64" lengthAdjust="spacingAndGlyphs">0.03</text>
<text x="297.37" y="239" font-size="63.3" fill="#00f" stroke="#00f" stroke-width="0.5" textLength="76.71" lengthAdjust="spacingAndGlyphs">Ga</text>
<text x="376.44" y="262" font-size="36.2" fill="#00f" stroke="#00f" stroke-width="0.5" textLength="67.54" lengthAdjust="spacingAndGlyphs">0.97</text>
<text x="443.58" y="239" font-size="63.3" fill="#00f" stroke="#00f" stroke-width="0.5" textLength="43.62" lengthAdjust="spacingAndGlyphs">N</text>
<text x="485.7" y="262" font-size="36.2" fill="#00f" stroke="#00f" stroke-width="0.5" textLength="83.56" lengthAdjust="spacingAndGlyphs">0.011</text>
<text x="570.35" y="239" font-size="63.3" fill="#00f" stroke="#00f" stroke-width="0.5" textLength="74.85" lengthAdjust="spacingAndGlyphs">As</text>
<text x="645.34" y="262" font-size="36.2" fill="#00f" stroke="#00f" stroke-width="0.5" textLength="86.65" lengthAdjust="spacingAndGlyphs">0.989</text>
<text x="212.59" y="749.8" font-size="63.3" fill="#000" stroke="#000" stroke-width="0.5" textLength="121.8" lengthAdjust="spacingAndGlyphs">GaN</text>
<text x="334.66" y="772.2" font-size="36.2" fill="#000" stroke="#000" stroke-width="0.5" textLength="84.86" lengthAdjust="spacingAndGlyphs">0.024</text>
<text x="418.56" y="749.8" font-size="63.3" fill="#000" stroke="#000" stroke-width="0.5" textLength="74.64" lengthAdjust="spacingAndGlyphs">As</text>
<text x="493.76" y="772.2" font-size="36.2" fill="#000" stroke="#000" stroke-width="0.5" textLength="85.21" lengthAdjust="spacingAndGlyphs">0.976</text>
<text x="1042.39" y="783.2" font-size="63.3" fill="#f00" stroke="#f00" stroke-width="0.5" textLength="121.8" lengthAdjust="spacingAndGlyphs">GaN</text>
<text x="1164.4" y="805.6" font-size="36.2" fill="#f00" stroke="#f00" stroke-width="0.5" textLength="81.41" lengthAdjust="spacingAndGlyphs">0.011</text>
<text x="1247.14" y="783.2" font-size="63.3" fill="#f00" stroke="#f00" stroke-width="0.5" textLength="75.28" lengthAdjust="spacingAndGlyphs">As</text>
<text x="1323.05" y="805.6" font-size="36.2" fill="#f00" stroke="#f00" stroke-width="0.5" textLength="85.73" lengthAdjust="spacingAndGlyphs">0.989</text>
<g fill="#fff"><rect x="420.28" y="1103.93" width="15.81" height="11.37"/><rect x="447.43" y="1103.93" width="12.85" height="11.37"/><rect x="631.68" y="1103.93" width="15.81" height="11.37"/><rect x="658.83" y="1103.93" width="12.85" height="11.37"/><rect x="695.08" y="1103.93" width="15.82" height="11.37"/><rect x="722.23" y="1103.93" width="12.85" height="11.37"/><rect x="843.08" y="1103.93" width="15.81" height="11.37"/><rect x="870.23" y="1103.93" width="12.85" height="11.37"/><rect x="1054.68" y="1103.93" width="15.81" height="11.37"/><rect x="1081.83" y="1103.93" width="12.85" height="11.37"/><rect x="1265.79" y="1103.93" width="15.81" height="11.37"/><rect x="1292.93" y="1103.93" width="12.85" height="11.37"/><rect x="533.76" y="257.31" width="6.13" height="6.69"/><rect x="545.01" y="257.31" width="5.20" height="6.69"/><rect x="550.92" y="257.31" width="6.86" height="6.69"/><rect x="563.37" y="257.31" width="5.77" height="6.69"/><rect x="1211.22" y="800.91" width="5.96" height="6.69"/><rect x="1222.20" y="800.91" width="5.07" height="6.69"/><rect x="1227.95" y="800.91" width="6.67" height="6.69"/><rect x="1240.08" y="800.91" width="5.62" height="6.69"/></g>
<text transform="translate(56.9 1027) rotate(-90)" font-size="80" fill="#000" stroke="#000" stroke-width="0.5" textLength="1018.5" lengthAdjust="spacingAndGlyphs">Photoluminescence (arb.u.)</text>
</svg>
</body></html>
